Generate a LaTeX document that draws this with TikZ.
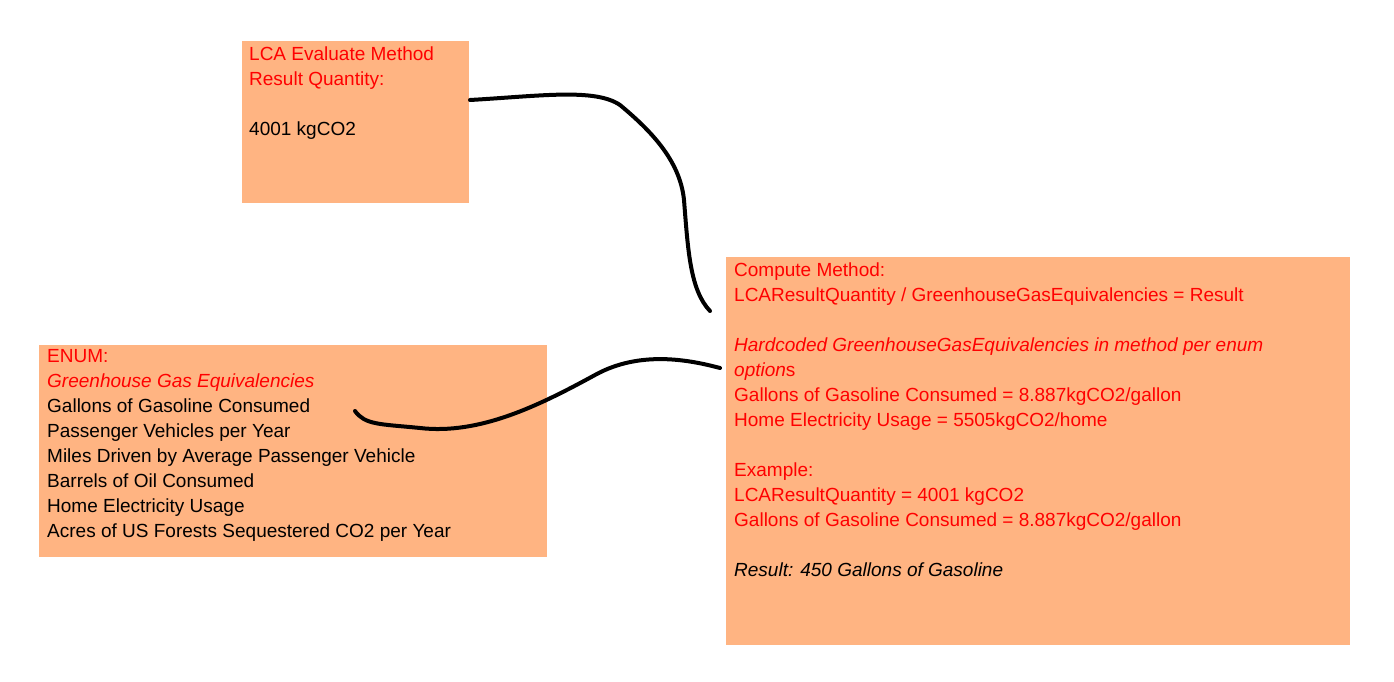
\documentclass[tikz,border=0pt]{standalone}
\usepackage{fontspec}
\setmainfont{Liberation Sans}
\definecolor{boxfill}{HTML}{FFB482}
\definecolor{txtred}{HTML}{FF0000}
\begin{document}
\begin{tikzpicture}[x=1pt,y=-1pt,
  box/.style={fill=boxfill,draw=none},
  txt/.style={anchor=north west,inner sep=0pt,align=left,font=\fontsize{19}{25}\selectfont},
  wire/.style={line width=4pt,line cap=round,line join=round}]
\useasboundingbox (0,0) rectangle (1394,682);
\fill[box] (242,41) rectangle (469,203);
\fill[box] (39,345) rectangle (547,557);
\fill[box] (726,257) rectangle (1350,645);
\node[txt] (ta) at (249,47) {\textcolor{txtred}{LCA Evaluate Method}\\\textcolor{txtred}{Result Quantity:}\\[25pt]4001 kgCO2};
\node[txt] (tb) at (47,349) {\textcolor{txtred}{ENUM:}\\\textcolor{txtred}{\itshape Greenhouse Gas Equivalencies}\\Gallons of Gasoline Consumed\\Passenger Vehicles per Year\\Miles Driven by Average Passenger Vehicle\\Barrels of Oil Consumed\\Home Electricity Usage\\Acres of US Forests Sequestered CO2 per Year};
\node[txt,text=txtred] (tc) at (734,263) {Compute Method:\\LCAResultQuantity / GreenhouseGasEquivalencies = Result\\[25pt]\textit{Hardcoded GreenhouseGasEquivalencies in method per enum}\\\textit{option}s\\Gallons of Gasoline Consumed = 8.887kgCO2/gallon\\Home Electricity Usage = 5505kgCO2/home\\[25pt]Example:\\LCAResultQuantity = 4001 kgCO2\\Gallons of Gasoline Consumed = 8.887kgCO2/gallon\\[25pt]\textcolor{black}{\itshape Result: 450 Gallons of Gasoline}};
\coordinate (a1) at (470,100);
\coordinate (a2) at (710,311);
\coordinate (b1) at (720,368);
\coordinate (b2) at (355,411);
\draw[wire] (a1) .. controls (540,96) and (595,88) .. (620,105)
  .. controls (650,130) and (680,160) .. (684,200)
  .. controls (688,250) and (690,290) .. (a2);
\draw[wire] (b1) .. controls (690,360) and (640,350) .. (595,375)
  .. controls (540,405) and (480,435) .. (420,428)
  .. controls (380,424) and (365,425) .. (b2);
\end{tikzpicture}
\end{document}
